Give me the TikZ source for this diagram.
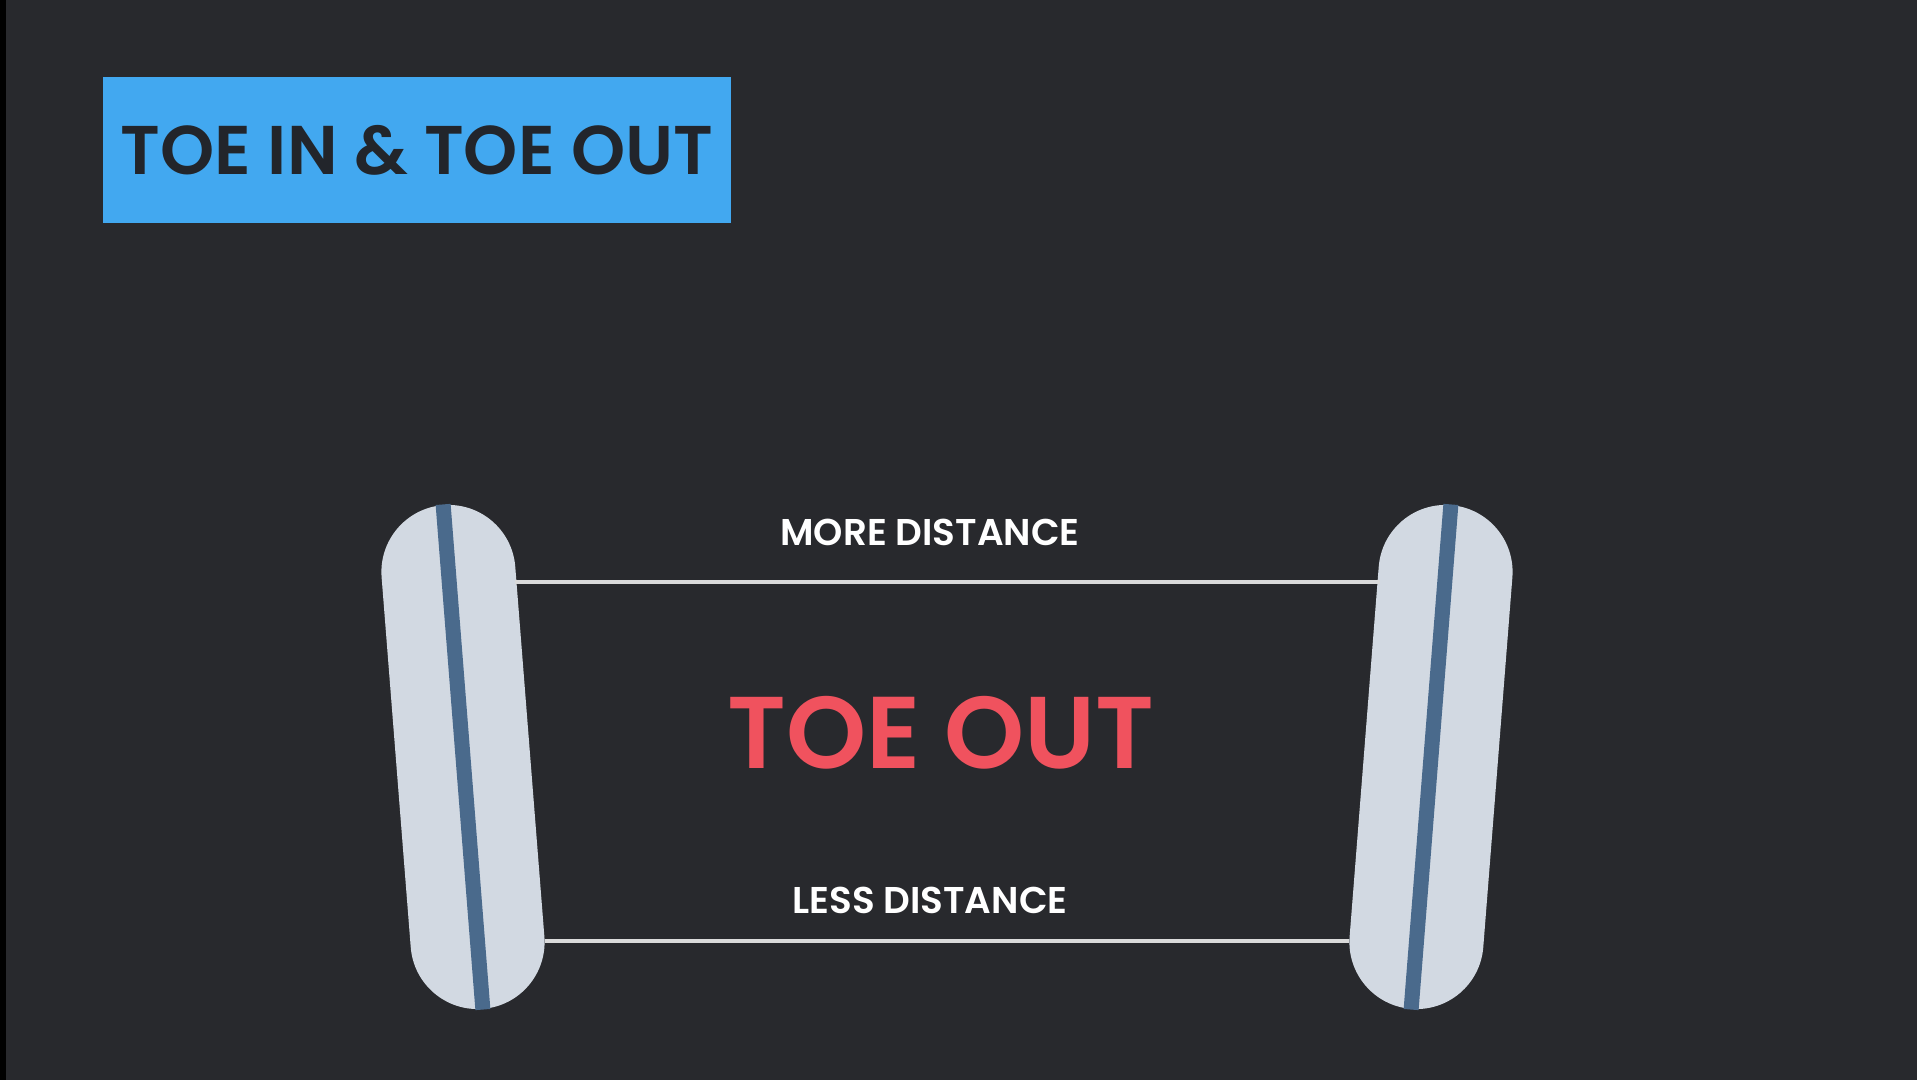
\documentclass[tikz,border=0pt]{standalone}
\usepackage{fontspec}
\setmainfont{Poppins}
\newfontfamily\semifont{Poppins SemiBold}
\newfontfamily\medfont{Poppins Medium}
\usetikzlibrary{positioning}
\definecolor{CBg}{HTML}{28292D}
\definecolor{CBlue}{HTML}{42A8F0}
\definecolor{CDark}{HTML}{22252B}
\definecolor{CTyre}{HTML}{D2D9E2}
\definecolor{CStripe}{HTML}{4A6A8C}
\definecolor{CRed}{HTML}{F0525E}
\definecolor{CLine}{HTML}{DADADA}

\begin{document}
\begin{tikzpicture}[x=0.01cm, y=-0.01cm,
    wheel/.style={fill=CTyre, minimum width=1.34cm, minimum height=5.05cm,
      rounded corners=0.67cm, inner sep=0pt},
    stripe/.style={CStripe, line width=0.15cm},
    gap/.style={CLine, line width=0.04cm},
    gaplabel/.style={white, font=\fontsize{10.6}{13}\selectfont\semifont}]
    % Background
    \useasboundingbox (0,0) rectangle (1917,1080);
    \fill[CBg] (0,0) rectangle (1917,1080);
    \fill[black] (0,0) rectangle (6,1080);

    % Title
    \fill[CBlue] (103,77) rectangle (731,223);
    \node[text=CDark, inner sep=0pt,
      font=\fontsize{19.6}{24}\selectfont\semifont] (title) at (417,150) {TOE IN \& TOE OUT};

    % Wheels
    \node[wheel, rotate=4.5] (lw) at (463,757) {};
    \node[wheel, rotate=-4.5] (rw) at (1431,757) {};
    \draw[stripe] (lw.north) -- (lw.south);
    \draw[stripe] (rw.north) -- (rw.south);

    % Distance lines
    \coordinate (lt) at (515,582);
    \coordinate (rt) at (1380,582);
    \coordinate (lb) at (545,941);
    \coordinate (rb) at (1349,941);
    \draw[gap] (lt) -- (rt);
    \draw[gap] (lb) -- (rb);

    % Labels
    \node[gaplabel] (more) at (930,532) {MORE DISTANCE};
    \node[gaplabel] (less) at (930,900) {LESS DISTANCE};
    \node[CRed, font=\fontsize{29}{34}\selectfont\semifont] (toe) at (941,733) {TOE OUT};
\end{tikzpicture}
\end{document}
